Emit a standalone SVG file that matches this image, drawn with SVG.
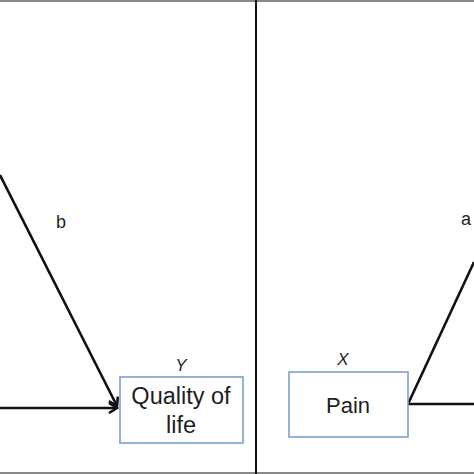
<svg xmlns="http://www.w3.org/2000/svg" width="474" height="474" viewBox="0 0 474 474">
<style>
.box{fill:#fff;stroke:#7aa1cf;stroke-width:1.6}
.lbl{font-family:"Liberation Sans",Arial,sans-serif;fill:#1e1e1e}
.var{font-family:"Liberation Sans",Arial,sans-serif;font-style:italic;fill:#1e1e1e;font-size:17px}
.con{stroke:#111;stroke-width:2.6;fill:none}
</style>
<defs>
<marker id="ah" markerWidth="12" markerHeight="12" refX="10" refY="6" orient="auto" markerUnits="userSpaceOnUse">
<path d="M2,1 L10,6 L2,11" fill="none" stroke="#111" stroke-width="2.6"/>
</marker>
</defs>
<rect x="0" y="0" width="474" height="474" fill="#fff"/>
<rect x="0" y="0" width="474" height="2" fill="#8a8a8a"/>
<rect x="0" y="472" width="474" height="2" fill="#8a8a8a"/>
<line x1="256" y1="0" x2="256" y2="474" stroke="#111" stroke-width="2"/>
<g id="connectors">
<line class="con" x1="0" y1="408" x2="117" y2="408" marker-end="url(#ah)"/>
<line class="con" x1="0" y1="175" x2="117" y2="406" marker-end="url(#ah)"/>
<line class="con" x1="408" y1="404" x2="474" y2="404"/>
<line class="con" x1="408" y1="404" x2="474" y2="262"/>
<text class="lbl" x="61" y="228" font-size="18" text-anchor="middle">b</text>
<text class="lbl" x="466" y="225" font-size="18" text-anchor="middle">a</text>
</g>
<g id="quality">
<rect class="box" x="120" y="377" width="123" height="66"/>
<text class="lbl" x="181" y="404" font-size="23.5" text-anchor="middle">Quality of</text>
<text class="lbl" x="181" y="433" font-size="23.5" text-anchor="middle">life</text>
<text class="var" x="181" y="371" text-anchor="middle">Y</text>
</g>
<g id="pain">
<rect class="box" x="289" y="372" width="119" height="65"/>
<text class="lbl" x="348" y="413" font-size="22" text-anchor="middle">Pain</text>
<text class="var" x="343" y="365" text-anchor="middle">X</text>
</g>
</svg>
